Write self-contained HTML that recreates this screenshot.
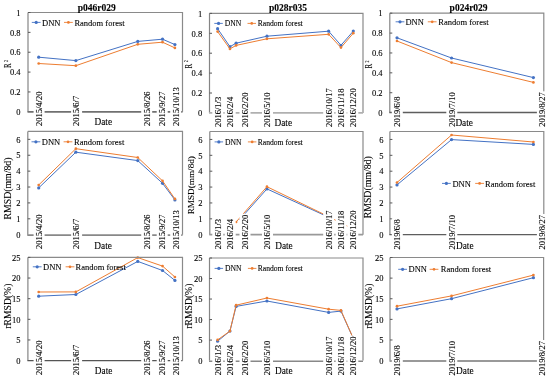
<!DOCTYPE html>
<html><head><meta charset="utf-8"><style>
html,body{margin:0;padding:0;background:#fff;}
svg{display:block;will-change:transform;}
text{font-family:"Liberation Serif", serif;stroke:#000;stroke-width:0.1px;}
</style></head><body>
<svg width="550" height="380" viewBox="0 0 550 380">
<rect width="550" height="380" fill="#fff"/>
<polyline points="38.7,57.2 75.85,60.6 137.77,41.4 162.54,39.2 174.92,44.6" fill="none" stroke="#4472C4" stroke-width="1.0" stroke-linejoin="round"/>
<circle cx="38.7" cy="57.2" r="1.6" fill="#4472C4"/>
<circle cx="75.85" cy="60.6" r="1.6" fill="#4472C4"/>
<circle cx="137.77" cy="41.4" r="1.6" fill="#4472C4"/>
<circle cx="162.54" cy="39.2" r="1.6" fill="#4472C4"/>
<circle cx="174.92" cy="44.6" r="1.6" fill="#4472C4"/>
<polyline points="38.7,63.5 75.85,65.7 137.77,44.3 162.54,42.2 174.92,47.9" fill="none" stroke="#ED7D31" stroke-width="1.0" stroke-linejoin="round"/>
<circle cx="38.7" cy="63.5" r="1.35" fill="#ED7D31"/>
<circle cx="75.85" cy="65.7" r="1.35" fill="#ED7D31"/>
<circle cx="137.77" cy="44.3" r="1.35" fill="#ED7D31"/>
<circle cx="162.54" cy="42.2" r="1.35" fill="#ED7D31"/>
<circle cx="174.92" cy="47.9" r="1.35" fill="#ED7D31"/>
<line x1="28" y1="12.5" x2="28" y2="111.8" stroke="#858585" stroke-width="1.2"/>
<polyline points="28,12.5 182.5,12.5 182.5,111.8" fill="none" stroke="#8a8a8a" stroke-width="1.2"/>
<text x="20.5" y="115.03" font-size="8.5" text-anchor="end" fill="#000">0</text>
<line x1="28" y1="91.94" x2="30.5" y2="91.94" stroke="#595959" stroke-width="1"/>
<text x="20.5" y="95.17" font-size="8.5" text-anchor="end" fill="#000">0.2</text>
<line x1="28" y1="72.08" x2="30.5" y2="72.08" stroke="#595959" stroke-width="1"/>
<text x="20.5" y="75.31" font-size="8.5" text-anchor="end" fill="#000">0.4</text>
<line x1="28" y1="52.22" x2="30.5" y2="52.22" stroke="#595959" stroke-width="1"/>
<text x="20.5" y="55.45" font-size="8.5" text-anchor="end" fill="#000">0.6</text>
<line x1="28" y1="32.36" x2="30.5" y2="32.36" stroke="#595959" stroke-width="1"/>
<text x="20.5" y="35.59" font-size="8.5" text-anchor="end" fill="#000">0.8</text>
<line x1="28" y1="12.5" x2="30.5" y2="12.5" stroke="#595959" stroke-width="1"/>
<text x="20.5" y="15.73" font-size="8.5" text-anchor="end" fill="#000">1</text>
<line x1="27.5" y1="111.85" x2="182.5" y2="111.85" stroke="#707070" stroke-width="1.6"/>
<rect x="33.6" y="90.52" width="11" height="36.48" fill="#fff"/>
<text transform="translate(41.97,126) rotate(-90)" font-size="8.5" text-anchor="start" fill="#000">2015/4/20</text>
<rect x="71.1" y="94.77" width="11" height="32.23" fill="#fff"/>
<text transform="translate(79.47,126) rotate(-90)" font-size="8.5" text-anchor="start" fill="#000">2015/6/7</text>
<rect x="141.2" y="90.52" width="11" height="36.48" fill="#fff"/>
<text transform="translate(149.57,126) rotate(-90)" font-size="8.5" text-anchor="start" fill="#000">2015/8/26</text>
<rect x="156.7" y="90.52" width="11" height="36.48" fill="#fff"/>
<text transform="translate(165.07,126) rotate(-90)" font-size="8.5" text-anchor="start" fill="#000">2015/9/27</text>
<rect x="170.2" y="86.27" width="11" height="40.73" fill="#fff"/>
<text transform="translate(178.57,126) rotate(-90)" font-size="8.5" text-anchor="start" fill="#000">2015/10/13</text>
<rect x="94" y="117.5" width="19" height="10" fill="#fff"/>
<text x="94.5" y="125" font-size="9.3" fill="#000">Date</text>
<text transform="translate(10.9,68) rotate(-90) scale(0.72,1)" font-size="9.6" text-anchor="start" fill="#000">R<tspan dx="2" dy="-3.2" font-size="5.5">2</tspan></text>
<line x1="31.8" y1="22.4" x2="40.6" y2="22.4" stroke="#4472C4" stroke-width="0.9"/>
<circle cx="36.2" cy="22.4" r="1.6" fill="#4472C4"/>
<text x="42" y="25.5" font-size="8.5" fill="#000">DNN</text>
<line x1="64" y1="22.4" x2="72.8" y2="22.4" stroke="#ED7D31" stroke-width="0.9"/>
<circle cx="68.4" cy="22.4" r="1.35" fill="#ED7D31"/>
<text x="74.4" y="25.5" font-size="8.5" fill="#000">Random forest</text>
<text x="77.8" y="10.9" font-size="9.5" font-weight="bold" fill="#000">p046r029</text>
<polyline points="217.6,28.7 229.94,46.7 236.1,43.2 266.94,36.2 328.62,31.2 340.96,45.3 353.3,31.1" fill="none" stroke="#4472C4" stroke-width="1.0" stroke-linejoin="round"/>
<circle cx="217.6" cy="28.7" r="1.6" fill="#4472C4"/>
<circle cx="229.94" cy="46.7" r="1.6" fill="#4472C4"/>
<circle cx="236.1" cy="43.2" r="1.6" fill="#4472C4"/>
<circle cx="266.94" cy="36.2" r="1.6" fill="#4472C4"/>
<circle cx="328.62" cy="31.2" r="1.6" fill="#4472C4"/>
<circle cx="340.96" cy="45.3" r="1.6" fill="#4472C4"/>
<circle cx="353.3" cy="31.1" r="1.6" fill="#4472C4"/>
<polyline points="217.6,31.6 229.94,48.9 236.1,45.4 266.94,38.8 328.62,34.3 340.96,47.6 353.3,33.2" fill="none" stroke="#ED7D31" stroke-width="1.0" stroke-linejoin="round"/>
<circle cx="217.6" cy="31.6" r="1.35" fill="#ED7D31"/>
<circle cx="229.94" cy="48.9" r="1.35" fill="#ED7D31"/>
<circle cx="236.1" cy="45.4" r="1.35" fill="#ED7D31"/>
<circle cx="266.94" cy="38.8" r="1.35" fill="#ED7D31"/>
<circle cx="328.62" cy="34.3" r="1.35" fill="#ED7D31"/>
<circle cx="340.96" cy="47.6" r="1.35" fill="#ED7D31"/>
<circle cx="353.3" cy="33.2" r="1.35" fill="#ED7D31"/>
<line x1="209.5" y1="13.4" x2="209.5" y2="112.9" stroke="#858585" stroke-width="1.2"/>
<polyline points="209.5,13.4 363,13.4 363,112.9" fill="none" stroke="#8a8a8a" stroke-width="1.2"/>
<text x="202.2" y="116.13" font-size="8.5" text-anchor="end" fill="#000">0</text>
<line x1="209.5" y1="93" x2="212" y2="93" stroke="#595959" stroke-width="1"/>
<text x="202.2" y="96.23" font-size="8.5" text-anchor="end" fill="#000">0.2</text>
<line x1="209.5" y1="73.1" x2="212" y2="73.1" stroke="#595959" stroke-width="1"/>
<text x="202.2" y="76.33" font-size="8.5" text-anchor="end" fill="#000">0.4</text>
<line x1="209.5" y1="53.2" x2="212" y2="53.2" stroke="#595959" stroke-width="1"/>
<text x="202.2" y="56.43" font-size="8.5" text-anchor="end" fill="#000">0.6</text>
<line x1="209.5" y1="33.3" x2="212" y2="33.3" stroke="#595959" stroke-width="1"/>
<text x="202.2" y="36.53" font-size="8.5" text-anchor="end" fill="#000">0.8</text>
<line x1="209.5" y1="13.4" x2="212" y2="13.4" stroke="#595959" stroke-width="1"/>
<text x="202.2" y="16.63" font-size="8.5" text-anchor="end" fill="#000">1</text>
<line x1="209" y1="112.9" x2="363" y2="112.9" stroke="#b0b0b0" stroke-width="1.8"/>
<rect x="212.3" y="95.77" width="11" height="32.23" fill="#fff"/>
<text transform="translate(220.67,127) rotate(-90)" font-size="8.5" text-anchor="start" fill="#000">2016/1/3</text>
<rect x="224.7" y="95.77" width="11" height="32.23" fill="#fff"/>
<text transform="translate(233.07,127) rotate(-90)" font-size="8.5" text-anchor="start" fill="#000">2016/2/4</text>
<rect x="239.5" y="91.52" width="11" height="36.48" fill="#fff"/>
<text transform="translate(247.87,127) rotate(-90)" font-size="8.5" text-anchor="start" fill="#000">2016/2/20</text>
<rect x="262" y="91.52" width="11" height="36.48" fill="#fff"/>
<text transform="translate(270.37,127) rotate(-90)" font-size="8.5" text-anchor="start" fill="#000">2016/5/10</text>
<rect x="323.2" y="87.27" width="11" height="40.73" fill="#fff"/>
<text transform="translate(331.57,127) rotate(-90)" font-size="8.5" text-anchor="start" fill="#000">2016/10/17</text>
<rect x="335.6" y="87.27" width="11" height="40.73" fill="#fff"/>
<text transform="translate(343.97,127) rotate(-90)" font-size="8.5" text-anchor="start" fill="#000">2016/11/18</text>
<rect x="347.3" y="87.27" width="11" height="40.73" fill="#fff"/>
<text transform="translate(355.67,127) rotate(-90)" font-size="8.5" text-anchor="start" fill="#000">2016/12/20</text>
<rect x="274" y="118.2" width="19" height="10" fill="#fff"/>
<text x="274.5" y="125.7" font-size="9.3" fill="#000">Date</text>
<text transform="translate(191.6,68.4) rotate(-90) scale(0.72,1)" font-size="9.6" text-anchor="start" fill="#000">R<tspan dx="2" dy="-3.2" font-size="5.5">2</tspan></text>
<line x1="214.3" y1="23.4" x2="222.8" y2="23.4" stroke="#4472C4" stroke-width="0.9"/>
<circle cx="218.55" cy="23.4" r="1.6" fill="#4472C4"/>
<text x="224.8" y="26.17" font-size="7.6" fill="#000">DNN</text>
<line x1="247.5" y1="23.4" x2="256" y2="23.4" stroke="#ED7D31" stroke-width="0.9"/>
<circle cx="251.75" cy="23.4" r="1.35" fill="#ED7D31"/>
<text x="257.8" y="26.17" font-size="7.6" fill="#000">Random forest</text>
<text x="268.9" y="11.1" font-size="9.5" font-weight="bold" fill="#000">p028r035</text>
<polyline points="397,37.8 451.56,58 533.4,77.6" fill="none" stroke="#4472C4" stroke-width="1.0" stroke-linejoin="round"/>
<circle cx="397" cy="37.8" r="1.6" fill="#4472C4"/>
<circle cx="451.56" cy="58" r="1.6" fill="#4472C4"/>
<circle cx="533.4" cy="77.6" r="1.6" fill="#4472C4"/>
<polyline points="397,41 451.56,62.6 533.4,82.4" fill="none" stroke="#ED7D31" stroke-width="1.0" stroke-linejoin="round"/>
<circle cx="397" cy="41" r="1.35" fill="#ED7D31"/>
<circle cx="451.56" cy="62.6" r="1.35" fill="#ED7D31"/>
<circle cx="533.4" cy="82.4" r="1.35" fill="#ED7D31"/>
<line x1="389.8" y1="13.2" x2="389.8" y2="112.6" stroke="#858585" stroke-width="1.2"/>
<polyline points="389.8,13.2 543.8,13.2 543.8,112.6" fill="none" stroke="#8a8a8a" stroke-width="1.2"/>
<text x="382.6" y="115.83" font-size="8.5" text-anchor="end" fill="#000">0</text>
<line x1="389.8" y1="92.72" x2="392.3" y2="92.72" stroke="#595959" stroke-width="1"/>
<text x="382.6" y="95.95" font-size="8.5" text-anchor="end" fill="#000">0.2</text>
<line x1="389.8" y1="72.84" x2="392.3" y2="72.84" stroke="#595959" stroke-width="1"/>
<text x="382.6" y="76.07" font-size="8.5" text-anchor="end" fill="#000">0.4</text>
<line x1="389.8" y1="52.96" x2="392.3" y2="52.96" stroke="#595959" stroke-width="1"/>
<text x="382.6" y="56.19" font-size="8.5" text-anchor="end" fill="#000">0.6</text>
<line x1="389.8" y1="33.08" x2="392.3" y2="33.08" stroke="#595959" stroke-width="1"/>
<text x="382.6" y="36.31" font-size="8.5" text-anchor="end" fill="#000">0.8</text>
<line x1="389.8" y1="13.2" x2="392.3" y2="13.2" stroke="#595959" stroke-width="1"/>
<text x="382.6" y="16.43" font-size="8.5" text-anchor="end" fill="#000">1</text>
<line x1="389.3" y1="112.5" x2="543.8" y2="112.5" stroke="#5e5e5e" stroke-width="1.4"/>
<rect x="391.8" y="95.57" width="11" height="32.23" fill="#fff"/>
<text transform="translate(400.17,126.8) rotate(-90)" font-size="8.5" text-anchor="start" fill="#000">2019/6/8</text>
<rect x="446.3" y="91.32" width="11" height="36.48" fill="#fff"/>
<text transform="translate(454.67,126.8) rotate(-90)" font-size="8.5" text-anchor="start" fill="#000">2019/7/10</text>
<rect x="536.9" y="91.32" width="11" height="36.48" fill="#fff"/>
<text transform="translate(545.27,126.8) rotate(-90)" font-size="8.5" text-anchor="start" fill="#000">2019/8/27</text>
<rect x="454.9" y="118.3" width="19" height="10" fill="#fff"/>
<text x="455.4" y="125.8" font-size="9.3" fill="#000">Date</text>
<text transform="translate(371.7,68.5) rotate(-90) scale(0.72,1)" font-size="9.6" text-anchor="start" fill="#000">R<tspan dx="2" dy="-3.2" font-size="5.5">2</tspan></text>
<line x1="395.6" y1="21.8" x2="404.4" y2="21.8" stroke="#4472C4" stroke-width="0.9"/>
<circle cx="400" cy="21.8" r="1.6" fill="#4472C4"/>
<text x="405.4" y="24.9" font-size="8.5" fill="#000">DNN</text>
<line x1="427.8" y1="21.8" x2="436.6" y2="21.8" stroke="#ED7D31" stroke-width="0.9"/>
<circle cx="432.2" cy="21.8" r="1.35" fill="#ED7D31"/>
<text x="438.3" y="24.9" font-size="8.5" fill="#000">Random forest</text>
<text x="449.6" y="11.1" font-size="9.5" font-weight="bold" fill="#000">p024r029</text>
<polyline points="38.7,187.9 75.85,152.2 137.77,160.6 162.54,183.3 174.92,199.9" fill="none" stroke="#4472C4" stroke-width="1.0" stroke-linejoin="round"/>
<circle cx="38.7" cy="187.9" r="1.6" fill="#4472C4"/>
<circle cx="75.85" cy="152.2" r="1.6" fill="#4472C4"/>
<circle cx="137.77" cy="160.6" r="1.6" fill="#4472C4"/>
<circle cx="162.54" cy="183.3" r="1.6" fill="#4472C4"/>
<circle cx="174.92" cy="199.9" r="1.6" fill="#4472C4"/>
<polyline points="38.7,185 75.85,148.7 137.77,157.5 162.54,180.9 174.92,198.9" fill="none" stroke="#ED7D31" stroke-width="1.0" stroke-linejoin="round"/>
<circle cx="38.7" cy="185" r="1.35" fill="#ED7D31"/>
<circle cx="75.85" cy="148.7" r="1.35" fill="#ED7D31"/>
<circle cx="137.77" cy="157.5" r="1.35" fill="#ED7D31"/>
<circle cx="162.54" cy="180.9" r="1.35" fill="#ED7D31"/>
<circle cx="174.92" cy="198.9" r="1.35" fill="#ED7D31"/>
<line x1="27.8" y1="131.4" x2="27.8" y2="234.7" stroke="#858585" stroke-width="1.2"/>
<polyline points="27.8,131.4 182.5,131.4 182.5,234.7" fill="none" stroke="#8a8a8a" stroke-width="1.2"/>
<text x="20.5" y="237.93" font-size="8.5" text-anchor="end" fill="#000">0</text>
<line x1="27.8" y1="218.81" x2="30.3" y2="218.81" stroke="#595959" stroke-width="1"/>
<text x="20.5" y="222.04" font-size="8.5" text-anchor="end" fill="#000">1</text>
<line x1="27.8" y1="202.92" x2="30.3" y2="202.92" stroke="#595959" stroke-width="1"/>
<text x="20.5" y="206.15" font-size="8.5" text-anchor="end" fill="#000">2</text>
<line x1="27.8" y1="187.02" x2="30.3" y2="187.02" stroke="#595959" stroke-width="1"/>
<text x="20.5" y="190.25" font-size="8.5" text-anchor="end" fill="#000">3</text>
<line x1="27.8" y1="171.13" x2="30.3" y2="171.13" stroke="#595959" stroke-width="1"/>
<text x="20.5" y="174.36" font-size="8.5" text-anchor="end" fill="#000">4</text>
<line x1="27.8" y1="155.24" x2="30.3" y2="155.24" stroke="#595959" stroke-width="1"/>
<text x="20.5" y="158.47" font-size="8.5" text-anchor="end" fill="#000">5</text>
<line x1="27.8" y1="139.35" x2="30.3" y2="139.35" stroke="#595959" stroke-width="1"/>
<text x="20.5" y="142.58" font-size="8.5" text-anchor="end" fill="#000">6</text>
<line x1="27.3" y1="235.1" x2="182.5" y2="235.1" stroke="#888" stroke-width="1.8"/>
<rect x="33.6" y="213.52" width="11" height="36.48" fill="#fff"/>
<text transform="translate(41.97,249) rotate(-90)" font-size="8.5" text-anchor="start" fill="#000">2015/4/20</text>
<rect x="71.1" y="217.77" width="11" height="32.23" fill="#fff"/>
<text transform="translate(79.47,249) rotate(-90)" font-size="8.5" text-anchor="start" fill="#000">2015/6/7</text>
<rect x="141.2" y="213.52" width="11" height="36.48" fill="#fff"/>
<text transform="translate(149.57,249) rotate(-90)" font-size="8.5" text-anchor="start" fill="#000">2015/8/26</text>
<rect x="156.7" y="213.52" width="11" height="36.48" fill="#fff"/>
<text transform="translate(165.07,249) rotate(-90)" font-size="8.5" text-anchor="start" fill="#000">2015/9/27</text>
<rect x="170.2" y="209.27" width="11" height="40.73" fill="#fff"/>
<text transform="translate(178.57,249) rotate(-90)" font-size="8.5" text-anchor="start" fill="#000">2015/10/13</text>
<rect x="93.8" y="241.3" width="19" height="10" fill="#fff"/>
<text x="94.3" y="248.8" font-size="9.3" fill="#000">Date</text>
<text transform="translate(11.1,188.5) rotate(-90)" font-size="9.8" text-anchor="middle" fill="#000">RMSD(mm/8d)</text>
<line x1="31.5" y1="141.8" x2="40.3" y2="141.8" stroke="#4472C4" stroke-width="0.9"/>
<circle cx="35.9" cy="141.8" r="1.6" fill="#4472C4"/>
<text x="41.8" y="144.9" font-size="8.5" fill="#000">DNN</text>
<line x1="63.6" y1="141.8" x2="72.4" y2="141.8" stroke="#ED7D31" stroke-width="0.9"/>
<circle cx="68" cy="141.8" r="1.35" fill="#ED7D31"/>
<text x="74" y="144.9" font-size="8.5" fill="#000">Random forest</text>
<polyline points="239.5,219.8 266.94,188.9 328.62,217.2" fill="none" stroke="#4472C4" stroke-width="1.0" stroke-linejoin="round"/>
<circle cx="266.94" cy="188.9" r="1.6" fill="#4472C4"/>
<circle cx="328.62" cy="217.2" r="1.6" fill="#4472C4"/>
<polyline points="236.1,222 266.94,186.7 328.62,216.6 340.96,223 353.3,229" fill="none" stroke="#ED7D31" stroke-width="1.0" stroke-linejoin="round"/>
<circle cx="236.1" cy="222" r="1.35" fill="#ED7D31"/>
<circle cx="266.94" cy="186.7" r="1.35" fill="#ED7D31"/>
<circle cx="328.62" cy="216.6" r="1.35" fill="#ED7D31"/>
<circle cx="340.96" cy="223" r="1.35" fill="#ED7D31"/>
<circle cx="353.3" cy="229" r="1.35" fill="#ED7D31"/>
<line x1="209.8" y1="131.5" x2="209.8" y2="234.7" stroke="#858585" stroke-width="1.2"/>
<polyline points="209.8,131.5 363,131.5 363,234.7" fill="none" stroke="#8a8a8a" stroke-width="1.2"/>
<text x="202.6" y="237.93" font-size="8.5" text-anchor="end" fill="#000">0</text>
<line x1="209.8" y1="218.82" x2="212.3" y2="218.82" stroke="#595959" stroke-width="1"/>
<text x="202.6" y="222.05" font-size="8.5" text-anchor="end" fill="#000">1</text>
<line x1="209.8" y1="202.95" x2="212.3" y2="202.95" stroke="#595959" stroke-width="1"/>
<text x="202.6" y="206.18" font-size="8.5" text-anchor="end" fill="#000">2</text>
<line x1="209.8" y1="187.07" x2="212.3" y2="187.07" stroke="#595959" stroke-width="1"/>
<text x="202.6" y="190.3" font-size="8.5" text-anchor="end" fill="#000">3</text>
<line x1="209.8" y1="171.19" x2="212.3" y2="171.19" stroke="#595959" stroke-width="1"/>
<text x="202.6" y="174.42" font-size="8.5" text-anchor="end" fill="#000">4</text>
<line x1="209.8" y1="155.32" x2="212.3" y2="155.32" stroke="#595959" stroke-width="1"/>
<text x="202.6" y="158.55" font-size="8.5" text-anchor="end" fill="#000">5</text>
<line x1="209.8" y1="139.44" x2="212.3" y2="139.44" stroke="#595959" stroke-width="1"/>
<text x="202.6" y="142.67" font-size="8.5" text-anchor="end" fill="#000">6</text>
<line x1="209.3" y1="234.7" x2="363" y2="234.7" stroke="#999" stroke-width="1.8"/>
<rect x="212.3" y="217.97" width="11" height="32.23" fill="#fff"/>
<text transform="translate(220.67,249.2) rotate(-90)" font-size="8.5" text-anchor="start" fill="#000">2016/1/3</text>
<rect x="224.7" y="217.97" width="11" height="32.23" fill="#fff"/>
<text transform="translate(233.07,249.2) rotate(-90)" font-size="8.5" text-anchor="start" fill="#000">2016/2/4</text>
<rect x="239.5" y="213.72" width="11" height="36.48" fill="#fff"/>
<text transform="translate(247.87,249.2) rotate(-90)" font-size="8.5" text-anchor="start" fill="#000">2016/2/20</text>
<rect x="262" y="213.72" width="11" height="36.48" fill="#fff"/>
<text transform="translate(270.37,249.2) rotate(-90)" font-size="8.5" text-anchor="start" fill="#000">2016/5/10</text>
<rect x="323.2" y="209.47" width="11" height="40.73" fill="#fff"/>
<text transform="translate(331.57,249.2) rotate(-90)" font-size="8.5" text-anchor="start" fill="#000">2016/10/17</text>
<rect x="335.6" y="209.47" width="11" height="40.73" fill="#fff"/>
<text transform="translate(343.97,249.2) rotate(-90)" font-size="8.5" text-anchor="start" fill="#000">2016/11/18</text>
<rect x="347.3" y="209.47" width="11" height="40.73" fill="#fff"/>
<text transform="translate(355.67,249.2) rotate(-90)" font-size="8.5" text-anchor="start" fill="#000">2016/12/20</text>
<rect x="274.7" y="241.1" width="19" height="10" fill="#fff"/>
<text x="275.2" y="248.6" font-size="9.3" fill="#000">Date</text>
<text transform="translate(193.5,185.2) rotate(-90)" font-size="9.2" text-anchor="middle" fill="#000">RMSD(mm/8d)</text>
<line x1="214.6" y1="141.9" x2="223.1" y2="141.9" stroke="#4472C4" stroke-width="0.9"/>
<circle cx="218.85" cy="141.9" r="1.6" fill="#4472C4"/>
<text x="225" y="144.67" font-size="7.6" fill="#000">DNN</text>
<line x1="247.9" y1="141.9" x2="256.4" y2="141.9" stroke="#ED7D31" stroke-width="0.9"/>
<circle cx="252.15" cy="141.9" r="1.35" fill="#ED7D31"/>
<text x="257.8" y="144.67" font-size="7.6" fill="#000">Random forest</text>
<polyline points="397,184.9 451.56,139.6 533.4,144.4" fill="none" stroke="#4472C4" stroke-width="1.0" stroke-linejoin="round"/>
<circle cx="397" cy="184.9" r="1.6" fill="#4472C4"/>
<circle cx="451.56" cy="139.6" r="1.6" fill="#4472C4"/>
<circle cx="533.4" cy="144.4" r="1.6" fill="#4472C4"/>
<polyline points="397,182.5 451.56,135 533.4,142" fill="none" stroke="#ED7D31" stroke-width="1.0" stroke-linejoin="round"/>
<circle cx="397" cy="182.5" r="1.35" fill="#ED7D31"/>
<circle cx="451.56" cy="135" r="1.35" fill="#ED7D31"/>
<circle cx="533.4" cy="142" r="1.35" fill="#ED7D31"/>
<line x1="389.9" y1="131.5" x2="389.9" y2="234.7" stroke="#858585" stroke-width="1.2"/>
<polyline points="389.9,131.5 543.8,131.5 543.8,234.7" fill="none" stroke="#8a8a8a" stroke-width="1.2"/>
<text x="383.6" y="237.93" font-size="8.5" text-anchor="end" fill="#000">0</text>
<line x1="389.9" y1="218.82" x2="392.4" y2="218.82" stroke="#595959" stroke-width="1"/>
<text x="383.6" y="222.05" font-size="8.5" text-anchor="end" fill="#000">1</text>
<line x1="389.9" y1="202.95" x2="392.4" y2="202.95" stroke="#595959" stroke-width="1"/>
<text x="383.6" y="206.18" font-size="8.5" text-anchor="end" fill="#000">2</text>
<line x1="389.9" y1="187.07" x2="392.4" y2="187.07" stroke="#595959" stroke-width="1"/>
<text x="383.6" y="190.3" font-size="8.5" text-anchor="end" fill="#000">3</text>
<line x1="389.9" y1="171.19" x2="392.4" y2="171.19" stroke="#595959" stroke-width="1"/>
<text x="383.6" y="174.42" font-size="8.5" text-anchor="end" fill="#000">4</text>
<line x1="389.9" y1="155.32" x2="392.4" y2="155.32" stroke="#595959" stroke-width="1"/>
<text x="383.6" y="158.55" font-size="8.5" text-anchor="end" fill="#000">5</text>
<line x1="389.9" y1="139.44" x2="392.4" y2="139.44" stroke="#595959" stroke-width="1"/>
<text x="383.6" y="142.67" font-size="8.5" text-anchor="end" fill="#000">6</text>
<line x1="389.4" y1="234.6" x2="543.8" y2="234.6" stroke="#5e5e5e" stroke-width="1.4"/>
<rect x="391.8" y="218.27" width="11" height="32.23" fill="#fff"/>
<text transform="translate(400.17,249.5) rotate(-90)" font-size="8.5" text-anchor="start" fill="#000">2019/6/8</text>
<rect x="446.3" y="214.02" width="11" height="36.48" fill="#fff"/>
<text transform="translate(454.67,249.5) rotate(-90)" font-size="8.5" text-anchor="start" fill="#000">2019/7/10</text>
<rect x="536.9" y="214.02" width="11" height="36.48" fill="#fff"/>
<text transform="translate(545.27,249.5) rotate(-90)" font-size="8.5" text-anchor="start" fill="#000">2019/8/27</text>
<rect x="455.5" y="241" width="19" height="10" fill="#fff"/>
<text x="456" y="248.5" font-size="9.3" fill="#000">Date</text>
<text transform="translate(371.3,187.3) rotate(-90)" font-size="9.8" text-anchor="middle" fill="#000">RMSD(mm/8d)</text>
<line x1="442" y1="183.4" x2="450.8" y2="183.4" stroke="#4472C4" stroke-width="0.9"/>
<circle cx="446.4" cy="183.4" r="1.6" fill="#4472C4"/>
<text x="452.4" y="186.5" font-size="8.5" fill="#000">DNN</text>
<line x1="475.2" y1="183.4" x2="484" y2="183.4" stroke="#ED7D31" stroke-width="0.9"/>
<circle cx="479.6" cy="183.4" r="1.35" fill="#ED7D31"/>
<text x="485" y="186.5" font-size="8.5" fill="#000">Random forest</text>
<polyline points="38.7,296.2 75.85,294.5 137.77,261.4 162.54,270.5 174.92,280.4" fill="none" stroke="#4472C4" stroke-width="1.0" stroke-linejoin="round"/>
<circle cx="38.7" cy="296.2" r="1.6" fill="#4472C4"/>
<circle cx="75.85" cy="294.5" r="1.6" fill="#4472C4"/>
<circle cx="137.77" cy="261.4" r="1.6" fill="#4472C4"/>
<circle cx="162.54" cy="270.5" r="1.6" fill="#4472C4"/>
<circle cx="174.92" cy="280.4" r="1.6" fill="#4472C4"/>
<polyline points="38.7,292 75.85,291.9 137.77,257.6 162.54,266.1 174.92,277" fill="none" stroke="#ED7D31" stroke-width="1.0" stroke-linejoin="round"/>
<circle cx="38.7" cy="292" r="1.35" fill="#ED7D31"/>
<circle cx="75.85" cy="291.9" r="1.35" fill="#ED7D31"/>
<circle cx="137.77" cy="257.6" r="1.35" fill="#ED7D31"/>
<circle cx="162.54" cy="266.1" r="1.35" fill="#ED7D31"/>
<circle cx="174.92" cy="277" r="1.35" fill="#ED7D31"/>
<line x1="27.9" y1="257.4" x2="27.9" y2="360.6" stroke="#858585" stroke-width="1.2"/>
<polyline points="27.9,257.4 182.5,257.4 182.5,360.6" fill="none" stroke="#8a8a8a" stroke-width="1.2"/>
<text x="20.6" y="363.83" font-size="8.5" text-anchor="end" fill="#000">0</text>
<line x1="27.9" y1="339.96" x2="30.4" y2="339.96" stroke="#595959" stroke-width="1"/>
<text x="20.6" y="343.19" font-size="8.5" text-anchor="end" fill="#000">5</text>
<line x1="27.9" y1="319.32" x2="30.4" y2="319.32" stroke="#595959" stroke-width="1"/>
<text x="20.6" y="322.55" font-size="8.5" text-anchor="end" fill="#000">10</text>
<line x1="27.9" y1="298.68" x2="30.4" y2="298.68" stroke="#595959" stroke-width="1"/>
<text x="20.6" y="301.91" font-size="8.5" text-anchor="end" fill="#000">15</text>
<line x1="27.9" y1="278.04" x2="30.4" y2="278.04" stroke="#595959" stroke-width="1"/>
<text x="20.6" y="281.27" font-size="8.5" text-anchor="end" fill="#000">20</text>
<line x1="27.9" y1="257.4" x2="30.4" y2="257.4" stroke="#595959" stroke-width="1"/>
<text x="20.6" y="260.63" font-size="8.5" text-anchor="end" fill="#000">25</text>
<line x1="27.4" y1="360.6" x2="182.5" y2="360.6" stroke="#555" stroke-width="1.4"/>
<rect x="33.6" y="339.52" width="11" height="36.48" fill="#fff"/>
<text transform="translate(41.97,375) rotate(-90)" font-size="8.5" text-anchor="start" fill="#000">2015/4/20</text>
<rect x="71.1" y="343.77" width="11" height="32.23" fill="#fff"/>
<text transform="translate(79.47,375) rotate(-90)" font-size="8.5" text-anchor="start" fill="#000">2015/6/7</text>
<rect x="141.2" y="339.52" width="11" height="36.48" fill="#fff"/>
<text transform="translate(149.57,375) rotate(-90)" font-size="8.5" text-anchor="start" fill="#000">2015/8/26</text>
<rect x="156.7" y="339.52" width="11" height="36.48" fill="#fff"/>
<text transform="translate(165.07,375) rotate(-90)" font-size="8.5" text-anchor="start" fill="#000">2015/9/27</text>
<rect x="170.2" y="335.27" width="11" height="40.73" fill="#fff"/>
<text transform="translate(178.57,375) rotate(-90)" font-size="8.5" text-anchor="start" fill="#000">2015/10/13</text>
<rect x="94.3" y="366.3" width="19" height="10" fill="#fff"/>
<text x="94.8" y="373.8" font-size="9.3" fill="#000">Date</text>
<text transform="translate(11,306.2) rotate(-90)" font-size="9.7" text-anchor="middle" fill="#000">rRMSD(%)</text>
<line x1="32.8" y1="266.8" x2="41.6" y2="266.8" stroke="#4472C4" stroke-width="0.9"/>
<circle cx="37.2" cy="266.8" r="1.6" fill="#4472C4"/>
<text x="43" y="269.9" font-size="8.5" fill="#000">DNN</text>
<line x1="65.6" y1="266.8" x2="74.4" y2="266.8" stroke="#ED7D31" stroke-width="0.9"/>
<circle cx="70" cy="266.8" r="1.35" fill="#ED7D31"/>
<text x="75.5" y="269.9" font-size="8.5" fill="#000">Random forest</text>
<polyline points="217.6,341.2 229.94,331.1 236.1,306.4 266.94,301 328.62,312.4 340.96,311.1 353.3,338.5" fill="none" stroke="#4472C4" stroke-width="1.0" stroke-linejoin="round"/>
<circle cx="217.6" cy="341.2" r="1.6" fill="#4472C4"/>
<circle cx="229.94" cy="331.1" r="1.6" fill="#4472C4"/>
<circle cx="236.1" cy="306.4" r="1.6" fill="#4472C4"/>
<circle cx="266.94" cy="301" r="1.6" fill="#4472C4"/>
<circle cx="328.62" cy="312.4" r="1.6" fill="#4472C4"/>
<circle cx="340.96" cy="311.1" r="1.6" fill="#4472C4"/>
<circle cx="353.3" cy="338.5" r="1.6" fill="#4472C4"/>
<polyline points="217.6,339.9 229.94,331.1 236.1,305.2 266.94,298 328.62,309.2 340.96,310.4 353.3,338.5" fill="none" stroke="#ED7D31" stroke-width="1.0" stroke-linejoin="round"/>
<circle cx="217.6" cy="339.9" r="1.35" fill="#ED7D31"/>
<circle cx="229.94" cy="331.1" r="1.35" fill="#ED7D31"/>
<circle cx="236.1" cy="305.2" r="1.35" fill="#ED7D31"/>
<circle cx="266.94" cy="298" r="1.35" fill="#ED7D31"/>
<circle cx="328.62" cy="309.2" r="1.35" fill="#ED7D31"/>
<circle cx="340.96" cy="310.4" r="1.35" fill="#ED7D31"/>
<circle cx="353.3" cy="338.5" r="1.35" fill="#ED7D31"/>
<line x1="209.5" y1="258" x2="209.5" y2="360.6" stroke="#858585" stroke-width="1.2"/>
<polyline points="209.5,258 363,258 363,360.6" fill="none" stroke="#8a8a8a" stroke-width="1.2"/>
<text x="202.6" y="363.83" font-size="8.5" text-anchor="end" fill="#000">0</text>
<line x1="209.5" y1="340.08" x2="212" y2="340.08" stroke="#595959" stroke-width="1"/>
<text x="202.6" y="343.31" font-size="8.5" text-anchor="end" fill="#000">5</text>
<line x1="209.5" y1="319.56" x2="212" y2="319.56" stroke="#595959" stroke-width="1"/>
<text x="202.6" y="322.79" font-size="8.5" text-anchor="end" fill="#000">10</text>
<line x1="209.5" y1="299.04" x2="212" y2="299.04" stroke="#595959" stroke-width="1"/>
<text x="202.6" y="302.27" font-size="8.5" text-anchor="end" fill="#000">15</text>
<line x1="209.5" y1="278.52" x2="212" y2="278.52" stroke="#595959" stroke-width="1"/>
<text x="202.6" y="281.75" font-size="8.5" text-anchor="end" fill="#000">20</text>
<line x1="209.5" y1="258" x2="212" y2="258" stroke="#595959" stroke-width="1"/>
<text x="202.6" y="261.23" font-size="8.5" text-anchor="end" fill="#000">25</text>
<line x1="209" y1="361.3" x2="363" y2="361.3" stroke="#888" stroke-width="1.6"/>
<rect x="212.3" y="343.97" width="11" height="32.23" fill="#fff"/>
<text transform="translate(220.67,375.2) rotate(-90)" font-size="8.5" text-anchor="start" fill="#000">2016/1/3</text>
<rect x="224.7" y="343.97" width="11" height="32.23" fill="#fff"/>
<text transform="translate(233.07,375.2) rotate(-90)" font-size="8.5" text-anchor="start" fill="#000">2016/2/4</text>
<rect x="239.5" y="339.72" width="11" height="36.48" fill="#fff"/>
<text transform="translate(247.87,375.2) rotate(-90)" font-size="8.5" text-anchor="start" fill="#000">2016/2/20</text>
<rect x="262" y="339.72" width="11" height="36.48" fill="#fff"/>
<text transform="translate(270.37,375.2) rotate(-90)" font-size="8.5" text-anchor="start" fill="#000">2016/5/10</text>
<rect x="323.2" y="335.47" width="11" height="40.73" fill="#fff"/>
<text transform="translate(331.57,375.2) rotate(-90)" font-size="8.5" text-anchor="start" fill="#000">2016/10/17</text>
<rect x="335.6" y="335.47" width="11" height="40.73" fill="#fff"/>
<text transform="translate(343.97,375.2) rotate(-90)" font-size="8.5" text-anchor="start" fill="#000">2016/11/18</text>
<rect x="347.3" y="335.47" width="11" height="40.73" fill="#fff"/>
<text transform="translate(355.67,375.2) rotate(-90)" font-size="8.5" text-anchor="start" fill="#000">2016/12/20</text>
<rect x="274.5" y="366.8" width="19" height="10" fill="#fff"/>
<text x="275" y="374.3" font-size="9.3" fill="#000">Date</text>
<text transform="translate(191.6,306.2) rotate(-90)" font-size="9.7" text-anchor="middle" fill="#000">rRMSD(%)</text>
<line x1="214.6" y1="268.4" x2="223.1" y2="268.4" stroke="#4472C4" stroke-width="0.9"/>
<circle cx="218.85" cy="268.4" r="1.6" fill="#4472C4"/>
<text x="225" y="271.17" font-size="7.6" fill="#000">DNN</text>
<line x1="247.9" y1="268.4" x2="256.4" y2="268.4" stroke="#ED7D31" stroke-width="0.9"/>
<circle cx="252.15" cy="268.4" r="1.35" fill="#ED7D31"/>
<text x="257.8" y="271.17" font-size="7.6" fill="#000">Random forest</text>
<polyline points="397,308.9 451.56,298.7 533.4,277.7" fill="none" stroke="#4472C4" stroke-width="1.0" stroke-linejoin="round"/>
<circle cx="397" cy="308.9" r="1.6" fill="#4472C4"/>
<circle cx="451.56" cy="298.7" r="1.6" fill="#4472C4"/>
<circle cx="533.4" cy="277.7" r="1.6" fill="#4472C4"/>
<polyline points="397,306.2 451.56,295.9 533.4,275.1" fill="none" stroke="#ED7D31" stroke-width="1.0" stroke-linejoin="round"/>
<circle cx="397" cy="306.2" r="1.35" fill="#ED7D31"/>
<circle cx="451.56" cy="295.9" r="1.35" fill="#ED7D31"/>
<circle cx="533.4" cy="275.1" r="1.35" fill="#ED7D31"/>
<line x1="390" y1="257.5" x2="390" y2="360.6" stroke="#858585" stroke-width="1.2"/>
<polyline points="390,257.5 543.6,257.5 543.6,360.6" fill="none" stroke="#8a8a8a" stroke-width="1.2"/>
<text x="383.6" y="363.83" font-size="8.5" text-anchor="end" fill="#000">0</text>
<line x1="390" y1="339.98" x2="392.5" y2="339.98" stroke="#595959" stroke-width="1"/>
<text x="383.6" y="343.21" font-size="8.5" text-anchor="end" fill="#000">5</text>
<line x1="390" y1="319.36" x2="392.5" y2="319.36" stroke="#595959" stroke-width="1"/>
<text x="383.6" y="322.59" font-size="8.5" text-anchor="end" fill="#000">10</text>
<line x1="390" y1="298.74" x2="392.5" y2="298.74" stroke="#595959" stroke-width="1"/>
<text x="383.6" y="301.97" font-size="8.5" text-anchor="end" fill="#000">15</text>
<line x1="390" y1="278.12" x2="392.5" y2="278.12" stroke="#595959" stroke-width="1"/>
<text x="383.6" y="281.35" font-size="8.5" text-anchor="end" fill="#000">20</text>
<line x1="390" y1="257.5" x2="392.5" y2="257.5" stroke="#595959" stroke-width="1"/>
<text x="383.6" y="260.73" font-size="8.5" text-anchor="end" fill="#000">25</text>
<line x1="389.5" y1="361" x2="543.6" y2="361" stroke="#999" stroke-width="1.8"/>
<rect x="391.8" y="344.27" width="11" height="32.23" fill="#fff"/>
<text transform="translate(400.17,375.5) rotate(-90)" font-size="8.5" text-anchor="start" fill="#000">2019/6/8</text>
<rect x="446.3" y="340.02" width="11" height="36.48" fill="#fff"/>
<text transform="translate(454.67,375.5) rotate(-90)" font-size="8.5" text-anchor="start" fill="#000">2019/7/10</text>
<rect x="536.9" y="340.02" width="11" height="36.48" fill="#fff"/>
<text transform="translate(545.27,375.5) rotate(-90)" font-size="8.5" text-anchor="start" fill="#000">2019/8/27</text>
<rect x="455.6" y="366.5" width="19" height="10" fill="#fff"/>
<text x="456.1" y="374" font-size="9.3" fill="#000">Date</text>
<text transform="translate(371.6,306.2) rotate(-90)" font-size="9.7" text-anchor="middle" fill="#000">rRMSD(%)</text>
<line x1="398.2" y1="269.3" x2="407" y2="269.3" stroke="#4472C4" stroke-width="0.9"/>
<circle cx="402.6" cy="269.3" r="1.6" fill="#4472C4"/>
<text x="408.6" y="272.4" font-size="8.5" fill="#000">DNN</text>
<line x1="429.6" y1="269.3" x2="438.4" y2="269.3" stroke="#ED7D31" stroke-width="0.9"/>
<circle cx="434" cy="269.3" r="1.35" fill="#ED7D31"/>
<text x="440.8" y="272.4" font-size="8.5" fill="#000">Random forest</text>
</svg>
</body></html>
